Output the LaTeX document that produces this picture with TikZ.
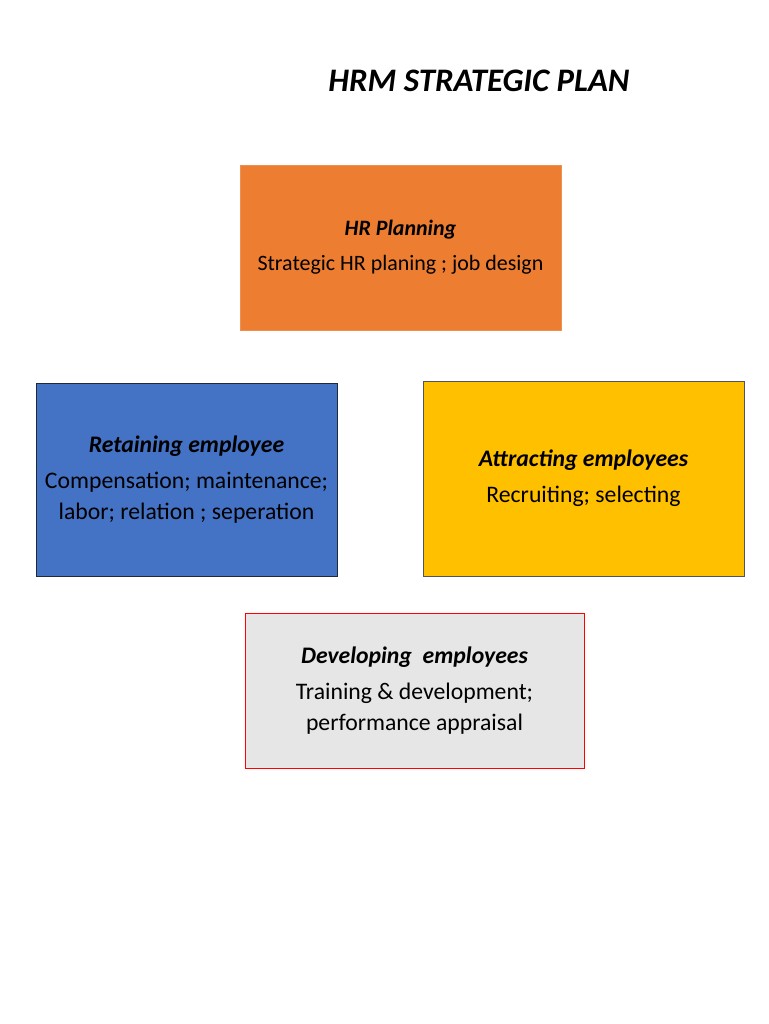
\documentclass[tikz,border=0pt]{standalone}
\usepackage{fontspec}
\setmainfont{Carlito}
\usepackage{xcolor}
\usetikzlibrary{positioning}
\definecolor{planorange}{HTML}{ED7D31}
\definecolor{retainblue}{HTML}{4472C4}
\definecolor{attractgold}{HTML}{FFC000}
\definecolor{developgray}{HTML}{E7E6E6}
\definecolor{edgedark}{HTML}{1F2A3A}
\newcommand{\px}{0.02cm}
\tikzset{
  box/.style={rectangle, align=center, inner sep=2pt, font=\fontsize{13.5}{17.5}\selectfont},
  smallbox/.style={box, font=\fontsize{12.5}{16}\selectfont},
}

\begin{document}
\begin{tikzpicture}[x=0.02cm, y=-0.02cm]
\useasboundingbox[fill=white] (0,0) rectangle (768,1024);
\node[font=\fontsize{18.7}{22}\selectfont\bfseries\itshape] (title) at (479,81) {HRM STRATEGIC PLAN};

\node[smallbox, fill=planorange, draw=planorange!85!white, minimum width=321*\px, minimum height=165*\px] (hrplan) at (400.5,247.5)
  {{\bfseries\itshape HR Planning}\\[4pt] Strategic HR planing ; job design};

\node[box, fill=retainblue, draw=edgedark, minimum width=301*\px, minimum height=193*\px] (retain) at (186.5,479.5)
  {{\bfseries\itshape Retaining employee}\\[3pt] Compensation; maintenance;\\ labor; relation ; seperation};

\node[box, fill=attractgold, draw=edgedark!80, minimum width=321*\px, minimum height=195*\px] (attract) at (583.5,478.5)
  {{\bfseries\itshape Attracting employees}\\[3pt] Recruiting; selecting};

\node[box, fill=developgray, draw=red, minimum width=339*\px, minimum height=155*\px] (develop) at (414.5,690.5)
  {{\bfseries\itshape Developing\ \ employees}\\[3pt] Training \& development;\\ performance appraisal};
\end{tikzpicture}
\end{document}
